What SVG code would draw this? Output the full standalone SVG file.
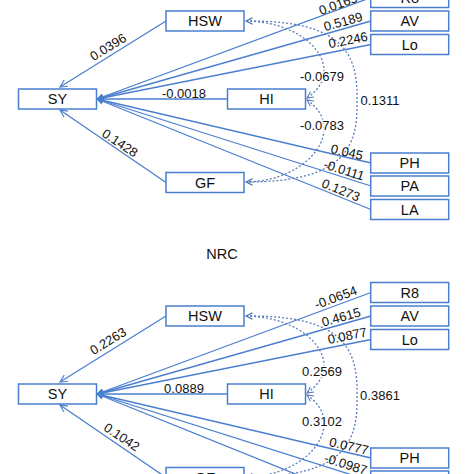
<svg xmlns="http://www.w3.org/2000/svg" width="474" height="474" viewBox="0 0 474 474">
<style>
.box{fill:#fff;stroke:#4a7fd0;stroke-width:1.5}
.nt{font-family:"Liberation Sans",Arial,sans-serif;font-size:14.5px;fill:#111;text-anchor:middle}
.ln{fill:none;stroke:#4a7fd0;stroke-width:1.3}
.dl{fill:none;stroke:#5a7db8;stroke-width:1.3;stroke-dasharray:2 2}
.lb{font-family:"Liberation Sans",Arial,sans-serif;font-size:13px;fill:#111;text-anchor:middle}
.lh{paint-order:stroke;stroke:#fff;stroke-width:3}
</style>
<defs>
<marker id="af" viewBox="0 0 10 10" refX="9" refY="5" markerWidth="7" markerHeight="7" markerUnits="userSpaceOnUse" orient="auto"><path d="M0,0 L10,5 L0,10 z" fill="#4a7fd0"/></marker>
<marker id="ao" viewBox="0 0 10 10" refX="9" refY="5" markerWidth="9" markerHeight="9" markerUnits="userSpaceOnUse" orient="auto"><path d="M1,1 L9,5 L1,9" fill="none" stroke="#4a7fd0" stroke-width="1.3"/></marker>
<marker id="ad" viewBox="0 0 10 10" refX="9" refY="5" markerWidth="8" markerHeight="8" markerUnits="userSpaceOnUse" orient="auto-start-reverse"><path d="M1,1 L9,5 L1,9" fill="none" stroke="#5a7db8" stroke-width="1.3"/></marker>
</defs>
<rect width="474" height="474" fill="#fff"/>

<g id="panel-top">
 <g id="connectors-top">
  <path class="ln" d="M371,-2.5 L97,99" marker-end="url(#af)"/>
  <path class="ln" d="M371,21 L97,99" marker-end="url(#af)"/>
  <path class="ln" d="M371,44.5 L97,99" marker-end="url(#af)"/>
  <path class="ln" d="M227.5,99 L97,99" marker-end="url(#af)"/>
  <path class="ln" d="M371,163 L97,99" marker-end="url(#af)"/>
  <path class="ln" d="M371,186 L97,99" marker-end="url(#af)"/>
  <path class="ln" d="M371,209.5 L97,99" marker-end="url(#af)"/>
  <path class="ln" d="M166,21 L60,87" marker-end="url(#ao)"/>
  <path class="ln" d="M166,182.5 L60,110" marker-end="url(#ao)"/>
  <path class="dl" d="M246,21 C310,22 348,70 307,98" marker-start="url(#ad)" marker-end="url(#ad)"/>
  <path class="dl" d="M307,100 C348,128 310,181 246,182" marker-start="url(#ad)" marker-end="url(#ad)"/>
  <path class="dl" d="M246,21 C345,20 358,55 357,101 C358,147 345,182 246,182" marker-start="url(#ad)" marker-end="url(#ad)"/>
  <text class="lb" transform="translate(338,4) rotate(-20.3)" dy="0.35em">0.0165</text>
  <text class="lb" transform="translate(343,21.5) rotate(-15.9)" dy="0.35em">0.5189</text>
  <text class="lb" transform="translate(348,40) rotate(-11.3)" dy="0.35em">0.2246</text>
  <text class="lb" transform="translate(347,152) rotate(13.1)" dy="0.35em">0.045</text>
  <text class="lb" transform="translate(344,170) rotate(17.6)" dy="0.35em">-0.0111</text>
  <text class="lb" transform="translate(341,190) rotate(21.9)" dy="0.35em">0.1273</text>
  <text class="lb" transform="translate(108,47) rotate(-31.5)" dy="0.35em">0.0396</text>
  <text class="lb" transform="translate(120,143) rotate(33.8)" dy="0.35em">0.1428</text>
  <text class="lb" x="184" y="98">-0.0018</text>
  <text class="lb lh" x="322" y="81">-0.0679</text>
  <text class="lb lh" x="322" y="130">-0.0783</text>
  <text class="lb lh" x="380" y="105">0.1311</text>
 </g>
 <g id="SY-top"><rect class="box" x="18.5" y="89" width="78" height="20"/><text class="nt" x="57.5" y="104">SY</text></g>
 <g id="HSW-top"><rect class="box" x="166" y="11" width="78" height="20"/><text class="nt" x="205" y="26">HSW</text></g>
 <g id="HI-top"><rect class="box" x="227.5" y="89" width="78" height="20"/><text class="nt" x="266.5" y="104">HI</text></g>
 <g id="GF-top"><rect class="box" x="166" y="172.5" width="78" height="20"/><text class="nt" x="205" y="187.5">GF</text></g>
 <g id="R8-top"><rect class="box" x="370.7" y="-12.5" width="78" height="20"/><text class="nt" x="409.7" y="2.5">R8</text></g>
 <g id="AV-top"><rect class="box" x="370.7" y="11" width="78" height="20"/><text class="nt" x="409.7" y="26">AV</text></g>
 <g id="Lo-top"><rect class="box" x="370.7" y="34.5" width="78" height="20"/><text class="nt" x="409.7" y="49.5">Lo</text></g>
 <g id="PH-top"><rect class="box" x="370.7" y="153" width="78" height="20"/><text class="nt" x="409.7" y="168">PH</text></g>
 <g id="PA-top"><rect class="box" x="370.7" y="176" width="78" height="20"/><text class="nt" x="409.7" y="191">PA</text></g>
 <g id="LA-top"><rect class="box" x="370.7" y="199.5" width="78" height="20"/><text class="nt" x="409.7" y="214.5">LA</text></g>
</g>

<text id="NRC" class="nt" x="222" y="259">NRC</text>

<g id="panel-bottom" transform="translate(0,295)">
 <g id="connectors-bottom">
  <path class="ln" d="M371,-2.5 L97,99" marker-end="url(#af)"/>
  <path class="ln" d="M371,21 L97,99" marker-end="url(#af)"/>
  <path class="ln" d="M371,44.5 L97,99" marker-end="url(#af)"/>
  <path class="ln" d="M227.5,99 L97,99" marker-end="url(#af)"/>
  <path class="ln" d="M371,163 L97,99" marker-end="url(#af)"/>
  <path class="ln" d="M371,186 L97,99" marker-end="url(#af)"/>
  <path class="ln" d="M371,209.5 L97,99" marker-end="url(#af)"/>
  <path class="ln" d="M166,21 L60,87" marker-end="url(#ao)"/>
  <path class="ln" d="M166,182.5 L60,110" marker-end="url(#ao)"/>
  <path class="dl" d="M246,21 C310,22 348,70 307,98" marker-start="url(#ad)" marker-end="url(#ad)"/>
  <path class="dl" d="M307,100 C348,128 310,181 246,182" marker-start="url(#ad)" marker-end="url(#ad)"/>
  <path class="dl" d="M246,21 C345,20 358,55 357,101 C358,147 345,182 246,182" marker-start="url(#ad)" marker-end="url(#ad)"/>
  <text class="lb" transform="translate(335.7,2.3) rotate(-20.3)" dy="0.35em">-0.0654</text>
  <text class="lb" transform="translate(341,22) rotate(-15.9)" dy="0.35em">0.4615</text>
  <text class="lb" transform="translate(347.3,40.7) rotate(-11.3)" dy="0.35em">0.0877</text>
  <text class="lb" transform="translate(349,151) rotate(13.1)" dy="0.35em">0.0777</text>
  <text class="lb" transform="translate(345.7,169) rotate(17.6)" dy="0.35em">-0.0987</text>
  <text class="lb" transform="translate(108,46) rotate(-31.5)" dy="0.35em">0.2263</text>
  <text class="lb" transform="translate(121.7,142) rotate(33.8)" dy="0.35em">0.1042</text>
  <text class="lb" x="184" y="98">0.0889</text>
  <text class="lb lh" x="322" y="81">0.2569</text>
  <text class="lb lh" x="322" y="131">0.3102</text>
  <text class="lb lh" x="380" y="105">0.3861</text>
 </g>
 <g id="SY-bottom"><rect class="box" x="18.5" y="89" width="78" height="20"/><text class="nt" x="57.5" y="104">SY</text></g>
 <g id="HSW-bottom"><rect class="box" x="166" y="11" width="78" height="20"/><text class="nt" x="205" y="26">HSW</text></g>
 <g id="HI-bottom"><rect class="box" x="227.5" y="89" width="78" height="20"/><text class="nt" x="266.5" y="104">HI</text></g>
 <g id="GF-bottom"><rect class="box" x="166" y="172.5" width="78" height="20"/><text class="nt" x="205" y="187.5">GF</text></g>
 <g id="R8-bottom"><rect class="box" x="370.7" y="-12.5" width="78" height="20"/><text class="nt" x="409.7" y="2.5">R8</text></g>
 <g id="AV-bottom"><rect class="box" x="370.7" y="11" width="78" height="20"/><text class="nt" x="409.7" y="26">AV</text></g>
 <g id="Lo-bottom"><rect class="box" x="370.7" y="34.5" width="78" height="20"/><text class="nt" x="409.7" y="49.5">Lo</text></g>
 <g id="PH-bottom"><rect class="box" x="370.7" y="153" width="78" height="20"/><text class="nt" x="409.7" y="168">PH</text></g>
 <g id="PA-bottom"><rect class="box" x="370.7" y="176" width="78" height="20"/></g>
</g>
</svg>
